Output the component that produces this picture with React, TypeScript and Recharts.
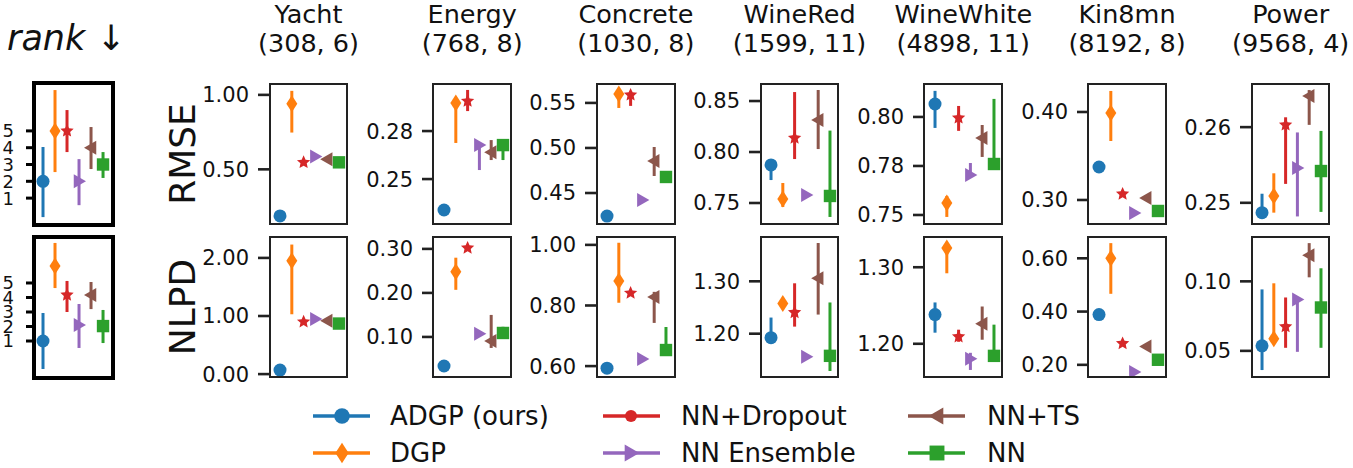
import React from 'react';
import { ScatterChart, Scatter, XAxis, YAxis, ErrorBar } from 'recharts';

type Triple = [number, number, number]; // [mean, low, high]

const methods = ['ADGP (ours)', 'DGP', 'NN+Dropout', 'NN Ensemble', 'NN+TS', 'NN'];
const methodColors = ['#1f77b4', '#ff7f0e', '#d62728', '#9467bd', '#8c564b', '#2ca02c'];
const methodMarkers = ['circle', 'diamond', 'star', 'triRight', 'triLeft', 'square'];

const datasetNames = ['Yacht', 'Energy', 'Concrete', 'WineRed', 'WineWhite', 'Kin8mn', 'Power'];
const datasetSizes = ['(308, 6)', '(768, 8)', '(1030, 8)', '(1599, 11)', '(4898, 11)', '(8192, 8)', '(9568, 4)'];
const rowLabels = ['RMSE', 'NLPD'];

// ---- rank panels ----
const rankTicks = [1, 2, 3, 4, 5];
const rankTickLabels = ['1', '2', '3', '4', '5'];
const rankRmse: Triple[] = [[2, -0.13, 4.04], [5, 2.55, 7.43], [5, 3.74, 6.24], [2, 0.58, 3.32], [4, 2.73, 5.23], [3, 2.2, 3.74]];
const rankRmseDomain = [-0.6, 7.85];
const rankNlpd: Triple[] = [[1, -0.93, 2.93], [6.17, 4.65, 7.76], [4.17, 3.0, 5.14], [2.1, 0.52, 3.55], [4.17, 3.2, 5.07], [2.03, 0.86, 3.14]];
const rankNlpdDomain = [-1.55, 8.17];

// ---- Yacht ----
const yachtRmse: Triple[] = [[0.187, 0.187, 0.187], [0.94, 0.747, 1.027], [0.547, 0.547, 0.547], [0.587, 0.587, 0.587], [0.567, 0.567, 0.567], [0.547, 0.547, 0.547]];
const yachtRmseTicks = [0.5, 1.0];
const yachtRmseLabels = ['0.50', '1.00'];
const yachtRmseDomain = [0.133, 1.073];
const yachtNlpd: Triple[] = [[0.07, 0.07, 0.07], [1.95, 1.03, 2.23], [0.9, 0.9, 0.9], [0.95, 0.95, 0.95], [0.92, 0.92, 0.92], [0.87, 0.87, 0.87]];
const yachtNlpdTicks = [0, 1, 2];
const yachtNlpdLabels = ['0.00', '1.00', '2.00'];
const yachtNlpdDomain = [-0.05, 2.36];

// ---- Energy ----
const energyRmse: Triple[] = [[0.2339, 0.2339, 0.2339], [0.2896, 0.2688, 0.2923], [0.2906, 0.2854, 0.2964], [0.2677, 0.2547, 0.2693], [0.264, 0.2599, 0.2703], [0.2677, 0.2599, 0.2703]];
const energyRmseTicks = [0.25, 0.275];
const energyRmseLabels = ['0.25', '0.28'];
const energyRmseDomain = [0.2266, 0.2995];
const energyNlpd: Triple[] = [[0.034, 0.034, 0.034], [0.248, 0.207, 0.28], [0.302, 0.302, 0.302], [0.107, 0.107, 0.107], [0.091, 0.075, 0.15], [0.109, 0.098, 0.123]];
const energyNlpdTicks = [0.1, 0.2, 0.3];
const energyNlpdLabels = ['0.10', '0.20', '0.30'];
const energyNlpdDomain = [0.009, 0.327];

// ---- Concrete ----
const concreteRmse: Triple[] = [[0.4244, 0.4244, 0.4244], [0.56, 0.5444, 0.5656], [0.5589, 0.5467, 0.5633], [0.4422, 0.4422, 0.4422], [0.4856, 0.4689, 0.5011], [0.4678, 0.4678, 0.4678]];
const concreteRmseTicks = [0.45, 0.5, 0.55];
const concreteRmseLabels = ['0.45', '0.50', '0.55'];
const concreteRmseDomain = [0.4156, 0.571];
const concreteNlpd: Triple[] = [[0.593, 0.593, 0.593], [0.881, 0.809, 1.007], [0.841, 0.841, 0.841], [0.623, 0.623, 0.623], [0.828, 0.7425, 0.845], [0.653, 0.653, 0.729]];
const concreteNlpdTicks = [0.6, 0.8, 1.0];
const concreteNlpdLabels = ['0.60', '0.80', '1.00'];
const concreteNlpdDomain = [0.564, 1.026];

// ---- WineRed ----
const wineRedRmse: Triple[] = [[0.7873, 0.7725, 0.792], [0.7539, 0.7461, 0.7696], [0.8137, 0.7931, 0.8588], [0.7578, 0.7578, 0.7578], [0.8314, 0.8029, 0.8608], [0.7569, 0.7363, 0.821]];
const wineRedRmseTicks = [0.75, 0.8, 0.85];
const wineRedRmseLabels = ['0.75', '0.80', '0.85'];
const wineRedRmseDomain = [0.7294, 0.8667];
const wineRedNlpd: Triple[] = [[1.1923, 1.1923, 1.2308], [1.2577, 1.2577, 1.2577], [1.2404, 1.2135, 1.2962], [1.1558, 1.1558, 1.1558], [1.3058, 1.2365, 1.3731], [1.1577, 1.1288, 1.2596]];
const wineRedNlpdTicks = [1.2, 1.3];
const wineRedNlpdLabels = ['1.20', '1.30'];
const wineRedNlpdDomain = [1.1173, 1.3846];

// ---- WineWhite ----
const wineWhiteRmse: Triple[] = [[0.8066, 0.7944, 0.8133], [0.7561, 0.749, 0.7597], [0.7995, 0.7929, 0.8056], [0.7704, 0.7704, 0.7765], [0.7893, 0.7796, 0.7959], [0.776, 0.776, 0.8092]];
const wineWhiteRmseTicks = [0.75, 0.775, 0.8];
const wineWhiteRmseLabels = ['0.75', '0.78', '0.80'];
const wineWhiteRmseDomain = [0.7454, 0.8168];
const wineWhiteNlpd: Triple[] = [[1.2382, 1.2145, 1.254], [1.325, 1.2921, 1.3316], [1.2092, 1.2026, 1.2184], [1.1803, 1.1658, 1.1882], [1.2263, 1.2053, 1.2487], [1.1842, 1.1842, 1.225]];
const wineWhiteNlpdTicks = [1.2, 1.3];
const wineWhiteNlpdLabels = ['1.20', '1.30'];
const wineWhiteNlpdDomain = [1.1566, 1.3395];

// ---- Kin8mn ----
const kinRmse: Triple[] = [[0.3375, 0.3375, 0.3375], [0.3989, 0.367, 0.4239], [0.3068, 0.3068, 0.3068], [0.2852, 0.2852, 0.2852], [0.3023, 0.3023, 0.3023], [0.2875, 0.2875, 0.2875]];
const kinRmseTicks = [0.3, 0.4];
const kinRmseLabels = ['0.30', '0.40'];
const kinRmseDomain = [0.2727, 0.4318];
const kinNlpd: Triple[] = [[0.3886, 0.3886, 0.3886], [0.6, 0.4667, 0.657], [0.28, 0.28, 0.28], [0.1733, 0.1733, 0.1733], [0.2686, 0.2686, 0.2686], [0.219, 0.219, 0.219]];
const kinNlpdTicks = [0.2, 0.4, 0.6];
const kinNlpdLabels = ['0.20', '0.40', '0.60'];
const kinNlpdDomain = [0.1543, 0.68];

// ---- Power ----
const powerRmse: Triple[] = [[0.2487, 0.2487, 0.2512], [0.2509, 0.2487, 0.2539], [0.2603, 0.2525, 0.2613], [0.2546, 0.2482, 0.2593], [0.2641, 0.2603, 0.2649], [0.2542, 0.2488, 0.2595]];
const powerRmseTicks = [0.25, 0.26];
const powerRmseLabels = ['0.25', '0.26'];
const powerRmseDomain = [0.2472, 0.2657];
const powerNlpd: Triple[] = [[0.0536, 0.0362, 0.0942], [0.0587, 0.055, 0.0986], [0.0674, 0.0522, 0.0884], [0.087, 0.0493, 0.0884], [0.1188, 0.1029, 0.1275], [0.0812, 0.0522, 0.1094]];
const powerNlpdTicks = [0.05, 0.1];
const powerNlpdLabels = ['0.05', '0.10'];
const powerNlpdDomain = [0.0312, 0.1319];

type PanelSpec = { vals: Triple[]; ticks: number[]; labels: string[]; domain: number[] };

const rmsePanels: PanelSpec[] = [
  { vals: yachtRmse, ticks: yachtRmseTicks, labels: yachtRmseLabels, domain: yachtRmseDomain },
  { vals: energyRmse, ticks: energyRmseTicks, labels: energyRmseLabels, domain: energyRmseDomain },
  { vals: concreteRmse, ticks: concreteRmseTicks, labels: concreteRmseLabels, domain: concreteRmseDomain },
  { vals: wineRedRmse, ticks: wineRedRmseTicks, labels: wineRedRmseLabels, domain: wineRedRmseDomain },
  { vals: wineWhiteRmse, ticks: wineWhiteRmseTicks, labels: wineWhiteRmseLabels, domain: wineWhiteRmseDomain },
  { vals: kinRmse, ticks: kinRmseTicks, labels: kinRmseLabels, domain: kinRmseDomain },
  { vals: powerRmse, ticks: powerRmseTicks, labels: powerRmseLabels, domain: powerRmseDomain },
];
const nlpdPanels: PanelSpec[] = [
  { vals: yachtNlpd, ticks: yachtNlpdTicks, labels: yachtNlpdLabels, domain: yachtNlpdDomain },
  { vals: energyNlpd, ticks: energyNlpdTicks, labels: energyNlpdLabels, domain: energyNlpdDomain },
  { vals: concreteNlpd, ticks: concreteNlpdTicks, labels: concreteNlpdLabels, domain: concreteNlpdDomain },
  { vals: wineRedNlpd, ticks: wineRedNlpdTicks, labels: wineRedNlpdLabels, domain: wineRedNlpdDomain },
  { vals: wineWhiteNlpd, ticks: wineWhiteNlpdTicks, labels: wineWhiteNlpdLabels, domain: wineWhiteNlpdDomain },
  { vals: kinNlpd, ticks: kinNlpdTicks, labels: kinNlpdLabels, domain: kinNlpdDomain },
  { vals: powerNlpd, ticks: powerNlpdTicks, labels: powerNlpdLabels, domain: powerNlpdDomain },
];

const FONT = "'DejaVu Sans', 'Liberation Sans', sans-serif";

function Marker({ cx, cy, kind, color, s = 1 }: { cx: number; cy: number; kind: string; color: string; s?: number }) {
  if (cx == null || cy == null || isNaN(cx) || isNaN(cy)) return null;
  switch (kind) {
    case 'circle':
      return <circle cx={cx} cy={cy} r={6.5 * s} fill={color} />;
    case 'dot':
      return <circle cx={cx} cy={cy} r={5 * s} fill={color} />;
    case 'diamond': {
      const w = 5.5 * s, h = 8.5 * s;
      return <polygon points={`${cx},${cy - h} ${cx + w},${cy} ${cx},${cy + h} ${cx - w},${cy}`} fill={color} />;
    }
    case 'star': {
      const pts: string[] = [];
      const ro = 7 * s, ri = 3.3 * s;
      for (let k = 0; k < 10; k++) {
        const a = -Math.PI / 2 + (k * Math.PI) / 5;
        const r = k % 2 === 0 ? ro : ri;
        pts.push(`${cx + r * Math.cos(a)},${cy + r * Math.sin(a)}`);
      }
      return <polygon points={pts.join(' ')} fill={color} />;
    }
    case 'triRight': {
      const a = 7 * s;
      return <polygon points={`${cx + a},${cy} ${cx - a * 0.75},${cy - a} ${cx - a * 0.75},${cy + a}`} fill={color} />;
    }
    case 'triLeft': {
      const a = 7 * s;
      return <polygon points={`${cx - a},${cy} ${cx + a * 0.75},${cy - a} ${cx + a * 0.75},${cy + a}`} fill={color} />;
    }
    case 'square': {
      const h = 6.2 * s;
      return <rect x={cx - h} y={cy - h} width={2 * h} height={2 * h} fill={color} />;
    }
    default:
      return null;
  }
}

function Panel({ spec, left, top, width, height, xDomain, rank }: { spec: PanelSpec; left: number; top: number; width: number; height: number; xDomain: number[]; rank?: boolean }) {
  const yW = 80;
  const m = 12;
  const bw = rank ? 4 : 2.6;
  return (
    <div style={{ position: 'absolute', left: left - yW, top: top - m }}>
      <ScatterChart width={yW + width + m} height={height + 2 * m} margin={{ top: m, right: m, bottom: m, left: 0 }}>
        <XAxis type="number" dataKey="x" domain={xDomain} allowDataOverflow hide />
        <YAxis
          type="number"
          dataKey="y"
          width={yW}
          domain={spec.domain}
          allowDataOverflow
          ticks={spec.ticks}
          interval={0}
          tickFormatter={(v: number) => {
            const idx = spec.ticks.indexOf(v);
            return idx >= 0 ? spec.labels[idx] : String(v);
          }}
          axisLine={false}
          tickLine={{ stroke: rank ? '#000' : '#222', strokeWidth: rank ? 3 : 2.6 }}
          tickSize={rank ? 8 : 12}
          tickMargin={rank ? 12 : 9}
          tick={{ fontSize: rank ? 18 : 21, fill: '#111', fontFamily: FONT }}
        />
        {spec.vals.map((t, i) => (
          <Scatter
            key={i}
            name={methods[i]}
            data={[{ x: i, y: t[0], err: [t[0] - t[1], t[2] - t[0]] }]}
            fill={methodColors[i]}
            isAnimationActive={false}
            shape={(p: any) => <Marker cx={p.cx} cy={p.cy} kind={methodMarkers[i]} color={methodColors[i]} />}
          >
            <ErrorBar dataKey="err" direction="y" width={0} strokeWidth={3} stroke={methodColors[i]} isAnimationActive={false} />
          </Scatter>
        ))}
      </ScatterChart>
      <div
        style={{
          position: 'absolute',
          left: yW - bw / 2,
          top: m - bw / 2,
          width: width + bw,
          height: height + bw,
          border: `${bw}px solid ${rank ? '#000' : '#222'}`,
          boxSizing: 'border-box',
          pointerEvents: 'none',
        }}
      />
    </div>
  );
}

const PANEL_X0 = 270;
const PANEL_STEP = 163.7;
const PANEL_W = 77;
const PANEL_XDOMAIN = [-0.85, 5.68];
const RANK_XDOMAIN = [-0.75, 5.83];

export default function App() {
  const legendCols = [
    { l0: 313, l1: 370, mx: 342, tx: 390 },
    { l0: 603, l1: 660, mx: 631, tx: 681 },
    { l0: 908, l1: 965, mx: 937, tx: 987 },
  ];
  const legendRows = [{ cy: 416, ty: 425 }, { cy: 453, ty: 462 }];
  const legendMarkers = ['circle', 'diamond', 'dot', 'triRight', 'triLeft', 'square'];

  return (
    <div style={{ position: 'absolute', left: 0, top: 0, width: 1353, height: 468, background: '#fff', overflow: 'hidden' }}>
      {/* rank panels */}
      <Panel spec={{ vals: rankRmse, ticks: rankTicks, labels: rankTickLabels, domain: rankRmseDomain }} left={34} top={83} width={79} height={142} xDomain={RANK_XDOMAIN} rank />
      <Panel spec={{ vals: rankNlpd, ticks: rankTicks, labels: rankTickLabels, domain: rankNlpdDomain }} left={34} top={237} width={79} height={141} xDomain={RANK_XDOMAIN} rank />

      {rmsePanels.map((p, k) => (
        <Panel key={'r' + k} spec={p} left={PANEL_X0 + k * PANEL_STEP} top={84} width={PANEL_W} height={140} xDomain={PANEL_XDOMAIN} />
      ))}
      {nlpdPanels.map((p, k) => (
        <Panel key={'n' + k} spec={p} left={PANEL_X0 + k * PANEL_STEP} top={237} width={PANEL_W} height={140} xDomain={PANEL_XDOMAIN} />
      ))}

      <svg width={1353} height={468} style={{ position: 'absolute', left: 0, top: 0, pointerEvents: 'none' }}>
        <text x={7} y={50} fontSize={35} fontStyle="italic" fontFamily={FONT} fill="#111">rank ↓</text>
        {datasetNames.map((n, k) => {
          const cx = PANEL_X0 + k * PANEL_STEP + PANEL_W / 2;
          return (
            <g key={n}>
              <text x={cx} y={23} fontSize={25.5} textAnchor="middle" fontFamily={FONT} fill="#111">{n}</text>
              <text x={cx} y={52} fontSize={25.5} textAnchor="middle" fontFamily={FONT} fill="#111">{datasetSizes[k]}</text>
            </g>
          );
        })}
        {rowLabels.map((r, k) => {
          const cy = k === 0 ? 154 : 307;
          return (
            <text key={r} x={0} y={0} transform={`translate(195, ${cy}) rotate(-90)`} fontSize={36} textAnchor="middle" fontFamily={FONT} fill="#111">{r}</text>
          );
        })}
        {methods.map((name, i) => {
          const col = legendCols[Math.floor(i / 2)];
          const row = legendRows[i % 2];
          return (
            <g key={name}>
              <line x1={col.l0} x2={col.l1} y1={row.cy} y2={row.cy} stroke={methodColors[i]} strokeWidth={3.5} />
              <Marker cx={col.mx} cy={row.cy} kind={legendMarkers[i]} color={methodColors[i]} s={1.2} />
              <text x={col.tx} y={row.ty} fontSize={26} fontFamily={FONT} fill="#111">{name}</text>
            </g>
          );
        })}
      </svg>
    </div>
  );
}
